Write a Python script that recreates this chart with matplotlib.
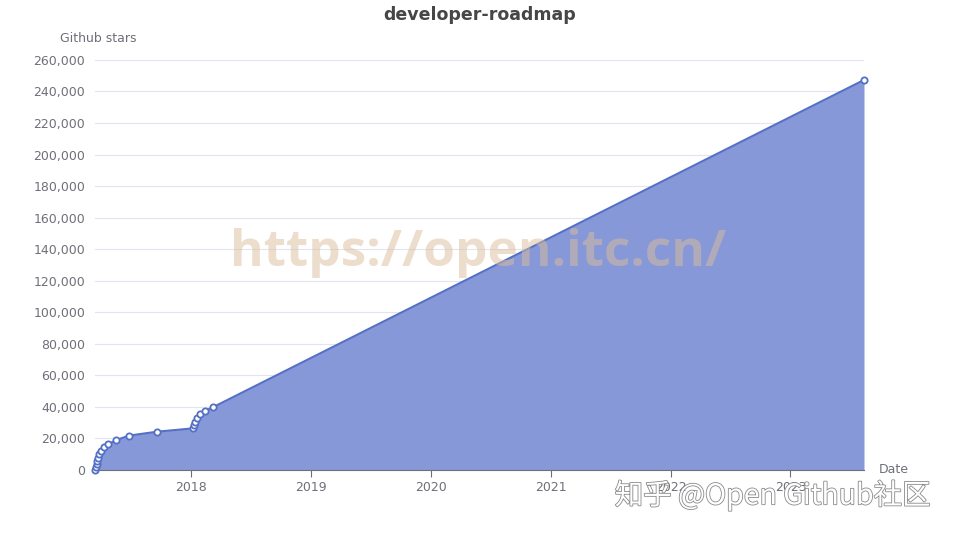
import matplotlib
matplotlib.use("Agg")
import matplotlib.pyplot as plt
import matplotlib.dates as mdates
import matplotlib.patheffects as pe
from matplotlib.ticker import FuncFormatter
import numpy as np
import pandas as pd

plt.rcParams['font.family'] = ['DejaVu Sans', 'Noto Sans CJK SC']

dates = ["2017-03-15", "2017-03-18", "2017-03-20", "2017-03-22", "2017-03-25",
         "2017-03-28", "2017-04-02", "2017-04-10", "2017-04-23", "2017-05-19",
         "2017-06-26", "2017-09-20", "2018-01-07", "2018-01-10", "2018-01-14",
         "2018-01-20", "2018-01-30", "2018-02-14", "2018-03-09", "2023-08-13"]
stars = [0, 2100, 4000, 5900, 7800, 10000, 12200, 14400, 16300, 19000,
         21800, 24300, 26400, 28500, 30600, 33200, 35500, 37600, 39800, 247300]

x = pd.to_datetime(dates)
line_col = "#5470c6"
fill_col = "#8698d7"
txt_col = "#6e7079"

fig = plt.figure(figsize=(9.6, 5.4), dpi=100)
ax = fig.add_axes([0.099, 0.1296, 0.801, 0.7594])

ax.fill_between(x, stars, 0, color=fill_col, zorder=2, linewidth=0)
ax.plot(x, stars, color=line_col, linewidth=1.5, zorder=3, clip_on=False,
        marker='o', markersize=4.5, markerfacecolor='white',
        markeredgecolor=line_col, markeredgewidth=1.3)

ax.set_xlim(x[0], x[-1])
ax.set_ylim(0, 260000)
ax.set_yticks(np.arange(0, 260001, 20000))
ax.yaxis.set_major_formatter(FuncFormatter(lambda v, p: f"{int(v):,}"))
ax.xaxis.set_major_locator(mdates.YearLocator())
ax.xaxis.set_major_formatter(mdates.DateFormatter("%Y"))

ax.grid(axis='y', color="#e0e6f1", linewidth=0.8, zorder=1)
ax.set_axisbelow(True)
for s in ['top', 'right', 'left']:
    ax.spines[s].set_visible(False)
ax.spines['bottom'].set_color("#6e7079")
ax.tick_params(axis='y', length=0, labelsize=9, labelcolor=txt_col, pad=7)
ax.tick_params(axis='x', length=5, color="#6e7079", labelsize=9,
               labelcolor=txt_col, pad=3)

fig.text(0.5, 0.973, "developer-roadmap", ha='center', va='center',
         fontsize=12.5, fontweight='bold', color="#464646")
fig.text(0.062, 0.928, "Github stars", ha='left', va='center',
         fontsize=9, color=txt_col)
fig.text(0.915, 0.130, "Date", ha='left', va='center',
         fontsize=9, color=txt_col)

# watermarks
fig.text(0.498, 0.532, "https://open.itc.cn/", ha='center', va='center',
         fontsize=37, fontweight='bold', color="#dcbc9c", alpha=0.5,
         family='Open Sans', zorder=10)
fig.text(0.805, 0.082, "知乎 @Open Github社区", ha='center', va='center',
         fontsize=20.5, color='white', family=['Noto Sans CJK SC', 'DejaVu Sans'],
         path_effects=[pe.withStroke(linewidth=1.2, foreground='#8a8a8a')],
         zorder=10)

fig.savefig("out.png", dpi=100)
